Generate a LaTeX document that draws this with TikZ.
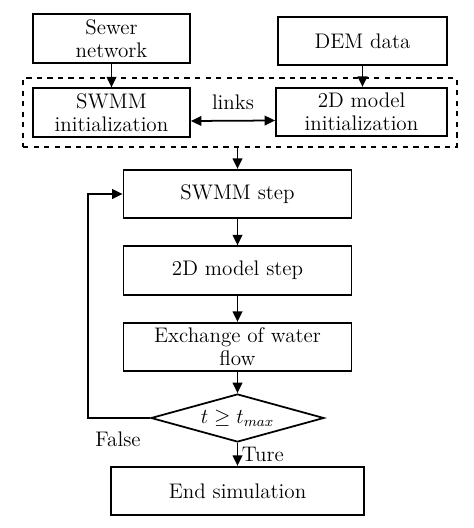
\RequirePackage{fix-cm}
\documentclass[tikz,border=0pt]{standalone}
\usepackage{fontspec}
\usetikzlibrary{arrows.meta,positioning,shapes.geometric,fit}
\begin{document}
\begin{tikzpicture}[->, >={Triangle[length=6pt,width=5.5pt]}, line width=1pt, font=\fontsize{12}{13}\selectfont]
\tikzstyle{block}=[draw=black,rectangle,align=center,inner sep=0pt,minimum height=0.97cm]
\useasboundingbox (0,0) rectangle (9.48,10.56);
\node[block, minimum width=3.14cm]  (sewer)  at (2.23,9.79) {Sewer\\network};
\node[block, minimum width=3.38cm]  (dem)    at (7.25,9.74) {DEM data};
\node[block, minimum width=3.14cm]  (swinit) at (2.23,8.31) {SWMM\\initialization};
\node[block, minimum width=3.42cm]  (dminit) at (7.23,8.32) {2D model\\initialization};
\node[draw, dashed, fit=(swinit)(dminit), inner sep=0.18cm] (group) {};
\node[block, minimum width=4.56cm]  (swstep) at (4.75,6.68) {SWMM step};
\node[block, minimum width=4.56cm]  (dmstep) at (4.75,5.15) {2D model step};
\node[block, minimum width=4.56cm]  (exch)   at (4.75,3.62) {Exchange of water\\flow};
\node[diamond, draw, aspect=3.6, minimum width=3.46cm, minimum height=0.96cm, inner sep=0pt] (check) at (4.75,2.2) {$t \geq t_{max}$};
\node[block, minimum width=5.06cm]  (endsim) at (4.75,0.74) {End simulation};
\node (false) at (2.36,1.78) {False};
\coordinate (loop) at (1.76,6.68);
\path
(sewer.south)  edge (swinit.north)
(dem.south)    edge ([xshift=0.02cm]dminit.north)
(swstep.north |- group.south)  edge (swstep.north)
(swstep)       edge (dmstep)
(dmstep)       edge (exch)
(exch)         edge (check)
(check)        edge node[right, inner sep=2pt] {Ture} (endsim);
\draw[<->] ([yshift=-0.17cm]swinit.east) -- node[above, inner sep=0.2cm] {links} ([yshift=-0.17cm]dminit.west);
\draw (check.west) -| (loop) -- (swstep.west);
\end{tikzpicture}
\end{document}
